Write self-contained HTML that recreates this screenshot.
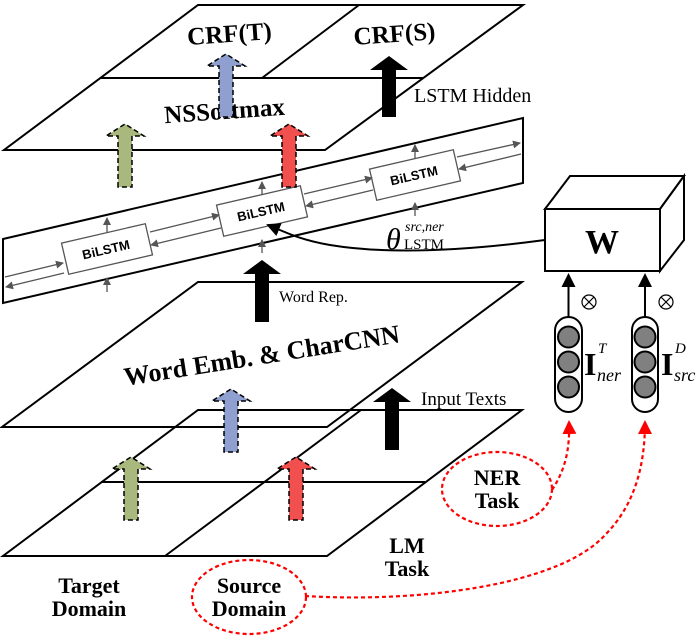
<!DOCTYPE html>
<html><head><meta charset="utf-8"><style>
html,body{margin:0;padding:0;background:#fff}
svg{display:block}
text{font-family:"Liberation Serif",serif}
text.b{font-weight:bold}
text.s{font-family:"Liberation Sans",sans-serif;font-weight:bold;font-size:13px}
</style></head><body>
<svg width="698" height="637" viewBox="0 0 698 637" xmlns="http://www.w3.org/2000/svg">
<defs>
<marker id="ah" markerWidth="8" markerHeight="8" refX="7" refY="4" orient="auto" markerUnits="userSpaceOnUse"><path d="M0,0 L8,4 L0,8 z" fill="#555"/></marker>
<marker id="ak" markerWidth="14" markerHeight="14" refX="12" refY="7" orient="auto" markerUnits="userSpaceOnUse"><path d="M0,0 L14,7 L0,14 z" fill="#000"/></marker>
<marker id="ar" markerWidth="14" markerHeight="14" refX="12" refY="7" orient="auto" markerUnits="userSpaceOnUse"><path d="M0,0 L14,7 L0,14 z" fill="#f00"/></marker>
</defs>
<g fill="none" stroke="#000" stroke-width="2">
<polygon points="198,5 523,5 325,150 4,150"/>
<line x1="100" y1="78" x2="423" y2="78"/>
<line x1="359" y1="5" x2="262" y2="78"/>
<polygon points="198,410 522,410 327,556 3,556"/>
<line x1="101" y1="482" x2="425" y2="482"/>
<line x1="361" y1="410" x2="165" y2="556"/>
<polygon points="198,282 522,282 327,427 2,427"/>
</g>
<polygon points="3,239 523,118 523,183 3,303" fill="#fff" stroke="#000" stroke-width="2"/>
<g stroke="#555" stroke-width="1.3" fill="#fff">
<g transform="translate(107,249) rotate(-13)"><rect x="-43" y="-16" width="86" height="32"/></g>
<g transform="translate(262,211) rotate(-13)"><rect x="-43" y="-16" width="86" height="32"/></g>
<g transform="translate(415,175) rotate(-13)"><rect x="-43" y="-16" width="86" height="32"/></g>
</g>
<text class="s" text-anchor="middle" transform="translate(107,254) rotate(-13)">BiLSTM</text>
<text class="s" text-anchor="middle" transform="translate(262,216) rotate(-13)">BiLSTM</text>
<text class="s" text-anchor="middle" transform="translate(415,180) rotate(-13)">BiLSTM</text>
<g stroke="#555" stroke-width="1.3" marker-end="url(#ah)">
<line x1="5" y1="277" x2="63" y2="263"/>
<line x1="64" y1="273" x2="6" y2="287"/>
<line x1="150" y1="232" x2="219" y2="215"/>
<line x1="221" y1="228" x2="151" y2="245"/>
<line x1="304" y1="194" x2="372" y2="178"/>
<line x1="373" y1="190" x2="306" y2="206"/>
<line x1="457" y1="157" x2="520" y2="143"/>
<line x1="521" y1="154" x2="459" y2="169"/>
<line x1="107" y1="232" x2="107" y2="218"/>
<line x1="107" y1="292" x2="107" y2="278"/>
<line x1="262" y1="195" x2="262" y2="182"/>
<line x1="262" y1="253" x2="262" y2="240"/>
<line x1="415" y1="159" x2="415" y2="145"/>
<line x1="415" y1="216" x2="415" y2="203"/>
</g>
<g stroke="#000" stroke-width="1.5" stroke-dasharray="5,3">
<path d="M118,187 L118,136 L106,136 L125,124 L144,136 L132,136 L132,187 z" fill="#a9b97e"/>
<path d="M282,187 L282,136 L270,136 L289,124 L308,136 L296,136 L296,187 z" fill="#f24f4f"/>
<path d="M124,520 L124,469 L112,469 L131,457 L150,469 L138,469 L138,520 z" fill="#a9b97e"/>
<path d="M289,520 L289,469 L277,469 L296,457 L315,469 L303,469 L303,520 z" fill="#f24f4f"/>
<path d="M224,452 L224,401 L212,401 L231,389 L250,401 L238,401 L238,452 z" fill="#8fa0d0"/>
</g>
<g fill="#000">
<path d="M382,117 L382,70 L370,70 L389,56 L408,70 L396,70 L396,117 z"/>
<path d="M255,322 L255,274 L243,274 L262,260 L281,274 L269,274 L269,322 z"/>
<path d="M385,450 L385,402 L373,402 L392,388 L411,402 L399,402 L399,450 z"/>
</g>
<text class="b" font-size="25" text-anchor="middle" transform="translate(230,42) rotate(-4)">CRF(T)</text>
<text class="b" font-size="25" text-anchor="middle" transform="translate(395,42) rotate(-4)">CRF(S)</text>
<text class="b" font-size="25" text-anchor="middle" transform="translate(225,119) rotate(-4)">NSSoftmax</text>
<path d="M219,117 L219,66 L207,66 L226,54 L245,66 L233,66 L233,117 z" fill="#8fa0d0" stroke="#000" stroke-width="1.5" stroke-dasharray="5,3"/>
<text font-size="20" x="414" y="102">LSTM Hidden</text>
<text font-size="16" x="279" y="302">Word Rep.</text>
<text class="b" font-size="26" text-anchor="middle" transform="translate(263,364) rotate(-9)">Word Emb. &amp; CharCNN</text>
<text font-size="19" x="421" y="405">Input Texts</text>
<text class="b" font-size="22" text-anchor="middle" x="407" y="553">LM</text>
<text class="b" font-size="22" text-anchor="middle" x="407" y="576">Task</text>
<text class="b" font-size="22" text-anchor="middle" x="89" y="593">Target</text>
<text class="b" font-size="22" text-anchor="middle" x="89" y="616">Domain</text>
<text class="b" font-size="22" text-anchor="middle" x="249" y="593">Source</text>
<text class="b" font-size="22" text-anchor="middle" x="249" y="616">Domain</text>
<text class="b" font-size="22" text-anchor="middle" x="497" y="485">NER</text>
<text class="b" font-size="22" text-anchor="middle" x="497" y="508">Task</text>
<text font-size="30" font-style="italic" x="386" y="249">θ</text>
<text font-size="14" font-style="italic" x="405" y="231">src,ner</text>
<text font-size="15" x="404" y="249">LSTM</text>
<path d="M545,240 C470,250 390,255 330,245 C300,240 285,232 268,225" fill="none" stroke="#000" stroke-width="2" marker-end="url(#ak)"/>
<g stroke="#000" stroke-width="2" fill="#fff">
<polygon points="545,209 570,176 684,176 660,209"/>
<polygon points="660,209 684,176 684,240 660,271"/>
<rect x="545" y="209" width="115" height="62"/>
</g>
<text class="b" font-size="34" text-anchor="middle" x="602" y="253">W</text>
<g stroke="#000" stroke-width="2">
<rect x="555" y="317" width="27" height="95" rx="13.5" fill="#fff"/>
<rect x="632" y="317" width="26" height="95" rx="13" fill="#fff"/>
<g fill="#808080"><circle cx="568.5" cy="337" r="10.5"/><circle cx="568.5" cy="362" r="10.5"/><circle cx="568.5" cy="387" r="10.5"/>
<circle cx="645" cy="337" r="10.5"/><circle cx="645" cy="362" r="10.5"/><circle cx="645" cy="387" r="10.5"/></g>
<line x1="568.5" y1="317" x2="568.5" y2="275" marker-end="url(#ak)"/>
<line x1="645" y1="317" x2="645" y2="275" marker-end="url(#ak)"/>
</g>
<g stroke="#000" stroke-width="1.2" fill="#fff">
<circle cx="589" cy="302" r="7"/><line x1="584" y1="297" x2="594" y2="307"/><line x1="594" y1="297" x2="584" y2="307"/>
<circle cx="666" cy="302" r="7"/><line x1="661" y1="297" x2="671" y2="307"/><line x1="671" y1="297" x2="661" y2="307"/>
</g>
<text class="b" font-size="32" x="584" y="375">I</text>
<text font-size="15" font-style="italic" x="598" y="353">T</text>
<text font-size="18" font-style="italic" x="597" y="381">ner</text>
<text class="b" font-size="32" x="661" y="375">I</text>
<text font-size="15" font-style="italic" x="675" y="353">D</text>
<text font-size="18" font-style="italic" x="674" y="381">src</text>
<g stroke="#f00" stroke-width="2.2" stroke-dasharray="4,3" fill="none">
<ellipse cx="497" cy="489" rx="55" ry="37"/>
<ellipse cx="249" cy="597" rx="57" ry="37"/>
<path d="M552,490 C565,470 570,450 569,422" marker-end="url(#ar)"/>
<path d="M305,596 C420,603 560,585 605,535 C635,505 645,465 645,422" marker-end="url(#ar)"/>
</g>
</svg>
</body></html>
